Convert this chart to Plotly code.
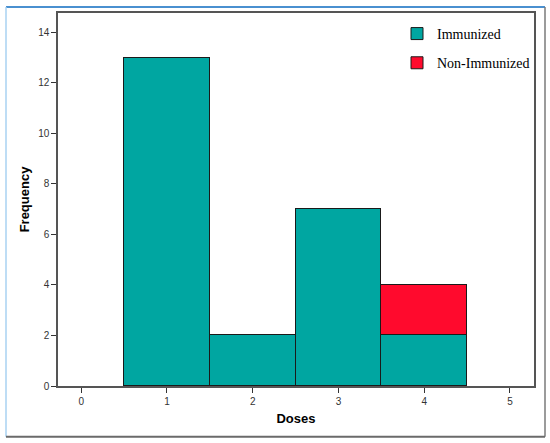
import plotly.graph_objects as go

# ========== data ==========
DOSES = [1, 2, 3, 4]
IMMUNIZED = [13, 2, 7, 2]
NON_IMMUNIZED = [0, 0, 0, 2]
SERIES_NAMES = ['Immunized', 'Non-Immunized']
COLORS = ['#00A6A1', '#FF0A2D']

W, H = 550, 443
ML, MR, MT, MB = 58, 16, 11, 57
PW, PH = W - ML - MR, H - MT - MB


def px_x(px):
    return (px - ML) / PW


def px_y(py):
    return (H - MB - py) / PH


fig = go.Figure()
for name, vals, col in zip(SERIES_NAMES, [IMMUNIZED, NON_IMMUNIZED], COLORS):
    fig.add_trace(go.Bar(
        x=DOSES, y=vals, name=name, width=1,
        marker=dict(color=col, line=dict(color='#1a1a1a', width=1)),
        legendgroup=name,
    ))

# outer frame around the whole chart
frame = [
    (6, 5, 545, 5, '#4A90D0', 2),
    (6, 5, 6, 437, '#A9D2F2', 1.5),
    (545, 5, 545, 437, '#7a7a7a', 1.5),
    (6, 437, 545, 437, '#6a6a6a', 2),
]
shapes = [dict(type='line', xref='paper', yref='paper',
               x0=px_x(a), y0=px_y(b), x1=px_x(c), y1=px_y(d),
               line=dict(color=clr, width=w))
          for a, b, c, d, clr, w in frame]

axis_common = dict(
    showline=True, linecolor='#555555', linewidth=1.5, mirror=True,
    ticks='outside', ticklen=5, tickcolor='#333333', tickwidth=1,
    showgrid=False, zeroline=False,
    tickfont=dict(family='Arial', size=10, color='#333333'),
)

fig.update_layout(
    width=W, height=H,
    margin=dict(l=ML, r=MR, t=MT, b=MB, pad=0),
    barmode='stack', bargap=0,
    plot_bgcolor='white', paper_bgcolor='white',
    shapes=shapes,
    xaxis=dict(range=[-0.27, 5.28], tickvals=[0, 1, 2, 3, 4, 5],
               title=dict(text='<b>Doses</b>', font=dict(family='Arial', size=13, color='black'),
                          standoff=8),
               **axis_common),
    yaxis=dict(range=[0, 14.77], tickvals=[0, 2, 4, 6, 8, 10, 12, 14],
               title=dict(text='<b>Frequency</b>', font=dict(family='Arial', size=13, color='black'),
                          standoff=6),
               **axis_common),
    legend=dict(x=px_x(397), y=px_y(16), xanchor='left', yanchor='top',
                font=dict(family='Liberation Serif', size=14, color='black'),
                bgcolor='rgba(0,0,0,0)', tracegroupgap=8),
)

fig.write_html("out.html", config={'displayModeBar': False},
               post_script="document.body.style.margin='0';")
